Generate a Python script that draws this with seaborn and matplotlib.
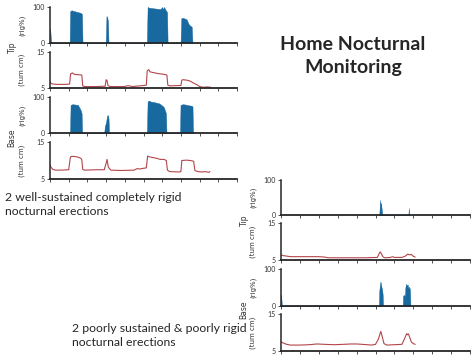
import numpy as np
import matplotlib
matplotlib.use("Agg")
import matplotlib.pyplot as plt
import seaborn as sns

# --- data (time in hours, 0-10) ---
# panel set 1: two well-sustained rigid erections
tip1_rig_t = [0.0, 0.03, 0.06,
              1.05, 1.08, 1.15, 1.25, 1.35, 1.45, 1.55, 1.62, 1.68, 1.71, 1.74,
              2.98, 3.02, 3.06, 3.10, 3.13,
              5.18, 5.22, 5.3, 5.45, 5.6, 5.75, 5.9, 6.0, 6.05, 6.1, 6.2, 6.26, 6.29,
              6.98, 7.02, 7.1, 7.2, 7.3, 7.35, 7.42, 7.5, 7.58, 7.62]
tip1_rig_v = [40, 25, 0,
              0, 88, 91, 89, 88, 86, 85, 84, 82, 80, 0,
              0, 75, 72, 60, 0,
              0, 100, 98, 97, 96, 95, 94, 100, 93, 100, 90, 86, 0,
              0, 69, 70, 68, 66, 60, 52, 48, 45, 0]

tip1_tum_t = [0, 0.05, 0.15, 0.4, 0.8, 1.05, 1.1, 1.2, 1.3, 1.5, 1.7, 1.75, 1.85,
              2.5, 2.95, 3.0, 3.05, 3.1, 3.2, 3.5, 4.0, 4.1, 4.25, 4.4, 5.0, 5.15,
              5.2, 5.28, 5.35, 5.5, 5.8, 6.1, 6.25, 6.3, 6.4, 7.0, 7.05, 7.1, 7.3,
              7.5, 7.7, 7.9, 8.0, 8.2, 8.4, 8.6]
tip1_tum_v = [6.8, 6.3, 6.1, 6.0, 6.0, 6.1, 8.9, 9.2, 8.8, 8.7, 8.6, 5.6, 5.4,
              5.4, 5.5, 7.3, 7.1, 5.7, 5.4, 5.4, 5.4, 5.6, 5.6, 5.4, 5.7, 5.8,
              9.8, 10.1, 9.5, 9.3, 9.0, 8.8, 8.6, 5.8, 5.6, 5.7, 7.2, 7.3, 7.2,
              6.9, 6.3, 5.8, 5.4, 5.2, 5.3, 5.2]

base1_rig_t = [1.07, 1.1, 1.2, 1.35, 1.5, 1.55, 1.6, 1.65, 1.69, 1.72,
               2.9, 2.93, 3.0, 3.05, 3.1, 3.13, 3.16,
               5.18, 5.22, 5.3, 5.4, 5.55, 5.7, 5.85, 5.95, 6.05, 6.1, 6.15, 6.2, 6.23,
               6.95, 6.98, 7.1, 7.25, 7.4, 7.55, 7.62, 7.65]
base1_rig_v = [0, 78, 80, 79, 78, 72, 68, 62, 55, 0,
               0, 18, 30, 48, 50, 40, 0,
               0, 88, 90, 87, 86, 84, 82, 78, 74, 70, 62, 55, 0,
               0, 78, 80, 79, 77, 76, 74, 0]

base1_tum_t = [0, 0.05, 0.15, 0.3, 0.6, 1.0, 1.08, 1.12, 1.3, 1.5, 1.65, 1.7,
               1.75, 1.85, 2.5, 2.9, 3.0, 3.05, 3.12, 3.25, 3.8, 4.5, 4.65, 4.8,
               5.0, 5.15, 5.22, 5.3, 5.5, 5.7, 5.9, 6.1, 6.22, 6.28, 6.4, 6.9,
               7.0, 7.05, 7.3, 7.5, 7.6, 7.68, 7.75, 7.9, 8.1, 8.3, 8.5, 8.55]
base1_tum_v = [8.9, 8.2, 7.6, 7.4, 7.4, 7.5, 10.6, 11.1, 11.1, 10.9, 10.6, 10.2,
               7.6, 7.4, 7.5, 7.5, 9.2, 10.3, 8.2, 7.4, 7.3, 7.4, 7.8, 7.7,
               7.9, 8.0, 11.2, 11.0, 10.8, 10.6, 10.3, 10.3, 10.0, 7.4, 7.0, 6.9,
               7.0, 10.0, 10.1, 10.0, 9.9, 9.8, 7.3, 7.0, 6.9, 7.0, 6.8, 7.0]

# panel set 2: two poorly sustained, poorly rigid erections
tip2_rig_t = [5.2, 5.23, 5.25, 5.27, 5.29, 5.31, 5.33, 5.36, 6.74, 6.76, 6.78]
tip2_rig_v = [0, 30, 43, 20, 35, 25, 15, 0, 0, 20, 0]

tip2_tum_t = [0, 0.1, 0.5, 1.0, 2.0, 2.3, 2.5, 3.5, 4.5, 5.1, 5.2, 5.25, 5.3,
              5.4, 5.5, 5.8, 5.9, 6.0, 6.4, 6.6, 6.7, 6.8, 6.9, 7.0, 7.1]
tip2_tum_v = [6.4, 6.2, 5.9, 5.9, 5.9, 5.8, 5.6, 5.6, 5.6, 5.7, 6.8, 7.2, 6.8,
              5.8, 5.6, 5.7, 5.9, 5.7, 5.7, 6.1, 6.6, 6.4, 6.5, 6.0, 5.8]

base2_rig_t = [0.0, 0.02, 0.05,
               5.18, 5.2, 5.23, 5.26, 5.29, 5.32, 5.35, 5.38, 5.4,
               6.44, 6.46, 6.52, 6.56, 6.58, 6.62, 6.66, 6.7, 6.74, 6.78, 6.82, 6.85]
base2_rig_v = [30, 20, 0,
               0, 40, 55, 66, 60, 50, 45, 30, 0,
               0, 28, 30, 25, 50, 60, 55, 58, 48, 52, 45, 0]

base2_tum_t = [0, 0.1, 0.3, 0.5, 1.0, 1.5, 1.9, 2.3, 2.8, 3.3, 3.7, 4.0, 4.3,
               4.8, 5.0, 5.15, 5.28, 5.35, 5.45, 5.6, 6.0, 6.4, 6.55, 6.65, 6.7,
               6.75, 6.8, 6.9, 7.0, 7.1]
base2_tum_v = [7.5, 7.2, 6.8, 6.6, 6.6, 6.7, 6.9, 6.8, 6.7, 6.8, 6.9, 6.9, 6.8,
               6.6, 6.8, 8.2, 10.3, 9.0, 7.0, 6.6, 6.7, 6.8, 8.5, 9.7, 9.4,
               9.6, 8.8, 7.4, 7.0, 6.8]

BLUE = "#17699f"
RED = "#b3454a"
W, H = 474, 355

sns.set_style("ticks")
plt.rcParams['font.family'] = ['Lato', 'DejaVu Sans']

fig = plt.figure(figsize=(W / 100, H / 100), dpi=100)


def make_ax(left, width, top, bottom):
    ax = fig.add_axes([left / W, 1 - bottom / H, width / W, (bottom - top) / H])
    sns.despine(ax=ax)
    ax.spines['left'].set_linewidth(1.1)
    ax.spines['bottom'].set_linewidth(1.3)
    ax.set_xlim(0, 10)
    ax.set_xticks(range(11))
    ax.set_xticklabels([])
    ax.tick_params(axis='x', length=2.5, width=0.6, direction='out', color='#333333')
    ax.tick_params(axis='y', length=2.5, width=0.6, labelsize=5, pad=1.5,
                   colors='#333333')
    ax.set_facecolor('none')
    return ax


def rig_panel(ax, t, v, lw=0.3):
    ax.fill_between(t, v, 0, color=BLUE, lw=lw, edgecolor=BLUE)
    ax.set_ylim(0, 100)
    ax.set_yticks([0, 100])
    ax.set_ylabel('(rig%)', fontsize=5, color='#333333', family='DejaVu Sans')


def tum_panel(ax, t, v):
    sns.lineplot(x=t, y=v, ax=ax, color=RED, lw=0.8, estimator=None, sort=False)
    ax.set_ylim(5, 15)
    ax.set_yticks([5, 15])
    ax.set_ylabel('(tum cm)', fontsize=5, color='#333333', family='DejaVu Sans')


sets = [
    (50, 187, [(7, 43), (52, 88), (97, 133), (142, 179)],
     [tip1_rig_t, tip1_tum_t, base1_rig_t, base1_tum_t],
     [tip1_rig_v, tip1_tum_v, base1_rig_v, base1_tum_v], 12),
    (281, 189, [(180, 215), (223, 260), (269, 306), (314, 351)],
     [tip2_rig_t, tip2_tum_t, base2_rig_t, base2_tum_t],
     [tip2_rig_v, tip2_tum_v, base2_rig_v, base2_tum_v], 244),
]

for left, width, rows, ts, vs, grp_x in sets:
    for i, (top, bottom) in enumerate(rows):
        ax = make_ax(left, width, top, bottom)
        if i % 2 == 0:
            rig_panel(ax, ts[i], vs[i])
        else:
            tum_panel(ax, ts[i], vs[i])
        ax.yaxis.set_label_coords(-25 / width, 0.5)
    # Tip / Base group labels
    tip_y = (rows[0][0] + rows[1][1]) / 2
    base_y = (rows[2][0] + rows[3][1]) / 2
    fig.text(grp_x / W, 1 - tip_y / H, 'Tip', rotation=90, fontsize=5.5,
             ha='center', va='center', color='#333333', family='DejaVu Sans')
    fig.text(grp_x / W, 1 - base_y / H, 'Base', rotation=90, fontsize=5.5,
             ha='center', va='center', color='#333333', family='DejaVu Sans')

fig.text(353 / W, 1 - 56 / H, 'Home Nocturnal\nMonitoring', fontsize=14,
         fontweight='bold', ha='center', va='center', linespacing=1.4)
fig.text(5 / W, 1 - 204.5 / H, '2 well-sustained completely rigid\nnocturnal erections',
         fontsize=8.8, ha='left', va='center', linespacing=1.4)
fig.text(72 / W, 1 - 335.5 / H, '2 poorly sustained & poorly rigid\nnocturnal erections',
         fontsize=8.8, ha='left', va='center', linespacing=1.3)

fig.savefig('out.png', dpi=100)
